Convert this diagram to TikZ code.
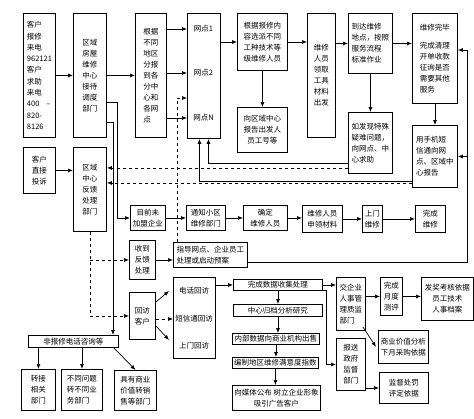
\documentclass[tikz,border=0pt]{standalone}
\usepackage{fontspec}
\setmainfont{Noto Sans CJK SC}
\usepackage{tikz}
\usetikzlibrary{arrows.meta}
\usetikzlibrary{calc}

\begin{document}
\begin{tikzpicture}[x=1pt,y=-1pt,
  box/.style={draw,line width=0.9pt,anchor=north west,inner sep=1pt,align=center,font=\fontsize{7.5}{11}\selectfont},
  lbox/.style={box,align=left},
  txt/.style={font=\fontsize{7.5}{11}\selectfont},
  arr/.style={line width=0.7pt,-{Latex[length=5pt,width=4pt]}}]
\useasboundingbox (0,0) rectangle (474,418);
\node[lbox,minimum width=32,minimum height=124,font=\fontsize{7.5}{11.3}\selectfont] (kfbx) at (23,13) {客户\\报修\\来电\\962121\\客户\\求助\\来电\\400\hspace{7pt}--\\820-\\8126};
\node[box,minimum width=33,minimum height=124] (zxdd) at (73,13) {区域\\房屋\\维修\\中心\\接待\\调度\\部门};
\node[lbox,minimum width=31,minimum height=124] (fb) at (135,13) {根据\\不同\\地区\\分报\\到各\\分中\\心和\\各网\\点};
\node[box,minimum width=33,minimum height=125] (wd) at (187,13) {};
\node[txt] (wd1) at (203.5,29) {网点1};
\node[txt] (wd2) at (203.5,73) {网点2};
\node[txt] (wdn) at (203.5,118) {网点N};
\node[box,minimum width=50,minimum height=57] (xp) at (237,13) {根据报修内\\容选派不同\\工种技术等\\级维修人员};
\node[box,minimum width=50,minimum height=45] (bg) at (237,107) {向区域中心\\报告出发人\\员工号等};
\node[box,minimum width=28,minimum height=124] (lq) at (307,13) {维修\\人员\\领取\\工具\\材料\\出发};
\node[lbox,minimum width=44,minimum height=60] (dd) at (348,13) {到达维修\\地点，按照\\服务流程\\标准作业};
\node[lbox,minimum width=44,minimum height=61] (qz) at (348,112) {如发现特殊\\疑难问题，\\向网点、中\\心求助};
\node[lbox,minimum width=45,minimum height=90] (wb) at (412,13) {维修完毕\\[7pt]完成清理\\开单收款\\征询是否\\需要其他\\服务};
\node[lbox,minimum width=45,minimum height=62] (dx) at (412,125) {用手机短\\信通向网\\点、区域中\\心报告};
\node[box,minimum width=32,minimum height=46] (kt) at (23,147) {客户\\直接\\投诉};
\node[box,minimum width=33,minimum height=84] (fk) at (73,147) {区域\\中心\\反馈\\处理\\部门};
\node[box,minimum width=35,minimum height=25] (mq) at (130,205) {目前未\\加盟企业};
\node[box,minimum width=39,minimum height=25] (tz) at (186,205) {通知小区\\维修部门};
\node[box,minimum width=44,minimum height=25] (qd) at (243,205) {确定\\维修人员};
\node[box,minimum width=40,minimum height=27] (sl) at (302,205) {维修人员\\申领材料};
\node[box,minimum width=20,minimum height=27] (sm) at (362,205) {上门\\维修};
\node[box,minimum width=30,minimum height=27] (wc) at (415,205) {完成\\维修};
\node[box,minimum width=26,minimum height=39] (sd) at (129,240) {收到\\反馈\\处理};
\node[lbox,minimum width=74,minimum height=25] (zd) at (173,242) {指导网点、企业员工\\处理或启动预案};
\node[box,minimum width=26,minimum height=47] (hf) at (129,292) {回访\\客户};
\node[box,minimum width=42,minimum height=81] (hfs) at (173,277) {};
\node[txt] (hfa) at (194,291) {电话回访};
\node[txt] (hfb) at (194,319) {短信通回访};
\node[txt] (hfc) at (194,346) {上门回访};
\node[box,minimum width=89,minimum height=11,inner sep=0pt] (sj) at (233,279) {完成数据收集处理};
\node[box,minimum width=89,minimum height=12,inner sep=0pt] (gd) at (233,304) {中心归档分析研究};
\node[box,minimum width=87,minimum height=11,inner sep=0pt] (cs) at (232,333) {内部数据向商业机构出售};
\node[box,minimum width=86,minimum height=11,inner sep=0pt] (my) at (232,357) {编制地区维修满意度指数};
\node[box,minimum width=88,minimum height=25,inner sep=0pt] (mt) at (232,385) {向媒体公布 树立企业形象\\吸引广告客户};
\node[lbox,minimum width=29,minimum height=53] (rs) at (336,277) {交企业\\人事管\\理质监\\部门};
\node[box,minimum width=22,minimum height=38] (yd) at (380,277) {完成\\月度\\测评};
\node[box,minimum width=52,minimum height=43] (fj) at (421,277) {发奖考核依据\\员工技术\\人事档案};
\node[box,minimum width=50,minimum height=33] (sy) at (378,330) {商业价值分析\\下月采购依据};
\node[box,minimum width=29,minimum height=52] (zf) at (336,338) {报送\\政府\\监督\\部门};
\node[box,minimum width=49,minimum height=31] (jd) at (379,372) {监督处罚\\评定依据};
\node[box,minimum width=90,minimum height=12,inner sep=0pt] (fzx) at (28,335) {非报修电话咨询等};
\node[box,minimum width=34,minimum height=41] (zj) at (21,369) {转接\\相关\\部门};
\node[lbox,minimum width=41,minimum height=41] (bt) at (61,369) {不同问题\\转不同业\\务部门};
\node[box,minimum width=42,minimum height=40] (sx) at (114,370) {具有商业\\价值转销\\售等部门};
\coordinate (r1) at (467,262);
\coordinate (r2) at (467,50);
\coordinate (v0) at (117,102);
\coordinate (v1) at (113,122);
\coordinate (v2) at (177,98);
\path ($(qz.south west)+(0,-11)$) coordinate (qa) ($(qz.south west)+(0,-6)$) coordinate (qb)
  ($(dx.south west)+(0,-7)$) coordinate (da) ($(dx.south west)+(0,-5)$) coordinate (db);
\draw[arr] (kfbx) -- (zxdd);
\draw[arr] (zxdd) -- (fb);
\foreach \p in {wd1,wd2,wdn} \draw[arr] (fb.east |- \p) -- (wd.west |- \p);
\draw[arr] (wd.east |- xp.west) -- (xp.west);
\draw[arr] (xp) -- (bg);
\draw[arr] (xp.east) -- (lq.west |- xp.east);
\draw[arr] (lq.east |- dd.west) -- (dd.west);
\draw[arr] (dd) -- (qz);
\draw[arr] (dd.east) -- (wb.west |- dd.east);
\draw[arr] (wb) -- (dx);
\draw[arr] (zd.east |- r1) -- (r1) -- (r2) -- (wb.east |- r2);
\draw[arr] (r1 |- dx.east) -- (dx.east);
\draw[arr] (qa) -| ($(wd.south)+(4.5,0)$);
\draw[arr] (da) -| ($(wd.south)+(-4.5,0)$);
\draw[arr,dashed] (qb) -- (fk.east |- qb);
\draw[arr,dashed] (db) -- (fk.east |- db);
\draw[arr] (kt) -- (fk.west |- kt);
\draw[arr] (zxdd.east |- v0) -- (v0) |- (mq.west);
\draw[arr] (zxdd.east |- v1) -- (v1) -- (v1 |- fzx.north);
\draw[arr,dashed] (fk.south) |- (hf.west);
\draw[arr,dashed] (fk.south |- sd.west) -- (sd.west);
\draw[arr] (sd.east) -- (zd.west |- sd.east);
\draw[arr,dashed] (zd.north -| v2) -- (v2) -- (wd.west |- v2);
\foreach \a/\b in {mq/tz,tz/qd,qd/sl,sl/sm,sm/wc} \draw[arr] (\a.east) -- (\b.west |- \a.east);
\draw[arr] ($(hf.north east)+(0,10)$) -- ($(hfs.west |- hfa)+(-4,0)$);
\draw[arr,dashed] (hf.east |- hfb) -- (hfs.west |- hfb);
\draw[arr] ($(hf.south east)+(0,-14)$) -- ($(hfs.west |- hfc)+(-4,-6)$);
\draw[arr] (hfs.east |- sj.west) -- (sj.west);
\foreach \a/\b in {sj/gd,gd/cs,cs/my,my/mt} \draw[arr] (\a.south) -- (\a.south |- \b.north);
\draw[arr] (sj.east) -- (rs.west |- sj.east);
\draw[arr] ($(sj.south east)+(0,-1)$) -- ++(3,0) |- (zf.west);
\draw[arr] (rs.east |- yd.west) -- (yd.west);
\draw[arr] (yd.east) -- (fj.west |- yd.east);
\draw[arr] ($(rs.south east)+(-3,-4)$) -- ($(sy.west)+(-2,0)$);
\draw[arr] (zf.east |- jd.west) -- (jd.west);
\draw[arr] (fzx.south -| zj.north) -- (zj.north);
\draw[arr] (fzx.south -| bt.north) -- (bt.north);
\draw[arr] ($(fzx.south east)+(-5,0)$) -- (sx.north);
\end{tikzpicture}
\end{document}
